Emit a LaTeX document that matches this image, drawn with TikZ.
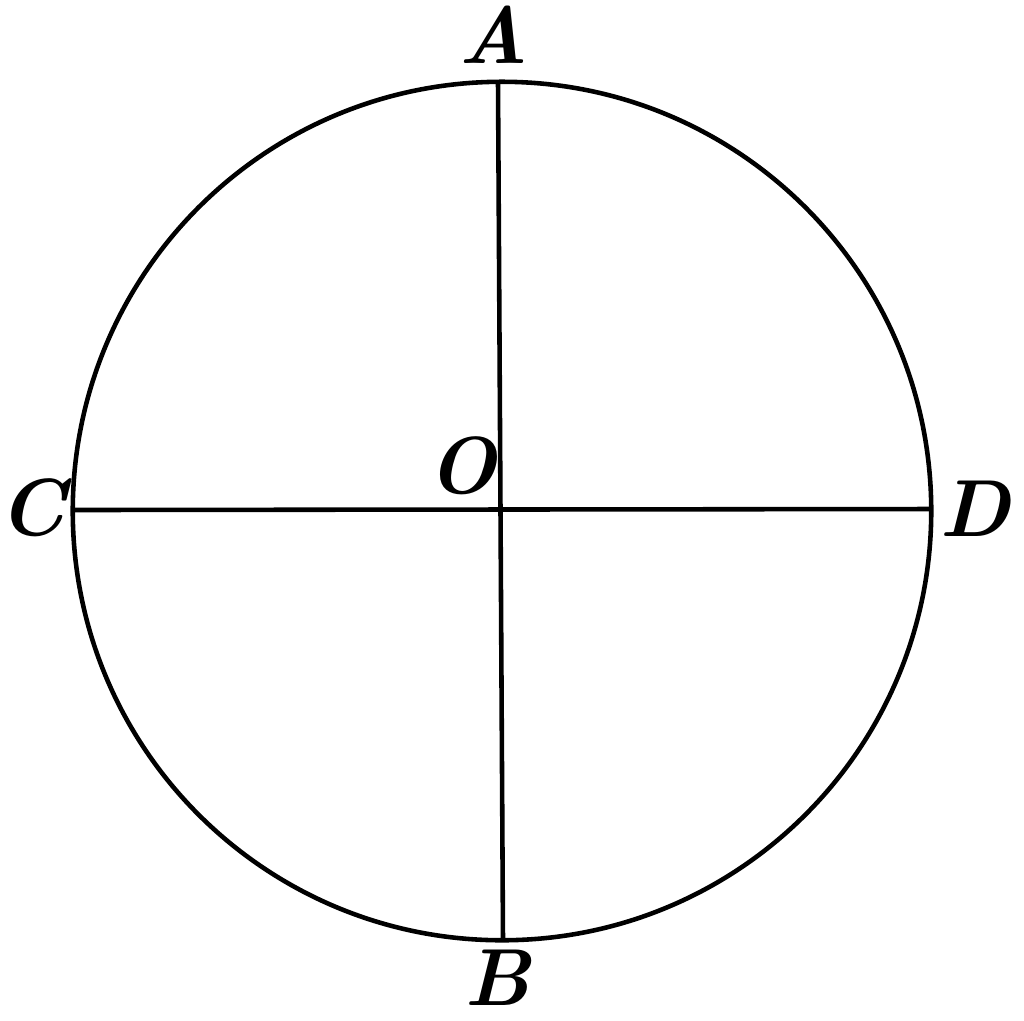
\documentclass[tikz,border=0pt]{standalone}
\usepackage{tikz}
\usetikzlibrary{positioning,calc}

\begin{document}
\begin{tikzpicture}[x=0.01cm, y=-0.01cm, line width=1.3pt,
    lbl/.style={font=\fontsize{23}{27}\selectfont\bfseries\itshape, inner sep=0pt}]
    \useasboundingbox (0,0) rectangle (1024,1020);
    \coordinate (O) at (502,511);
    \draw (O) circle[radius=4.29cm];
    % ends of the two diameters
    \coordinate (A) at (498,82);
    \coordinate (B) at (503,940);
    \coordinate (C) at (73,510);
    \coordinate (D) at (931,509);
    \draw (A) -- (B);
    \draw (C) -- (D);
    
    \node[lbl] (la) at (494,35) {A};
    \node[lbl] (lb) at (498,978) {B};
    \node[lbl] (lc) at (32,508) {C};
    \node[lbl] (ld) at (975,509) {D};
    \node[lbl] (lo) at (462,466) {O};
\end{tikzpicture}
\end{document}
